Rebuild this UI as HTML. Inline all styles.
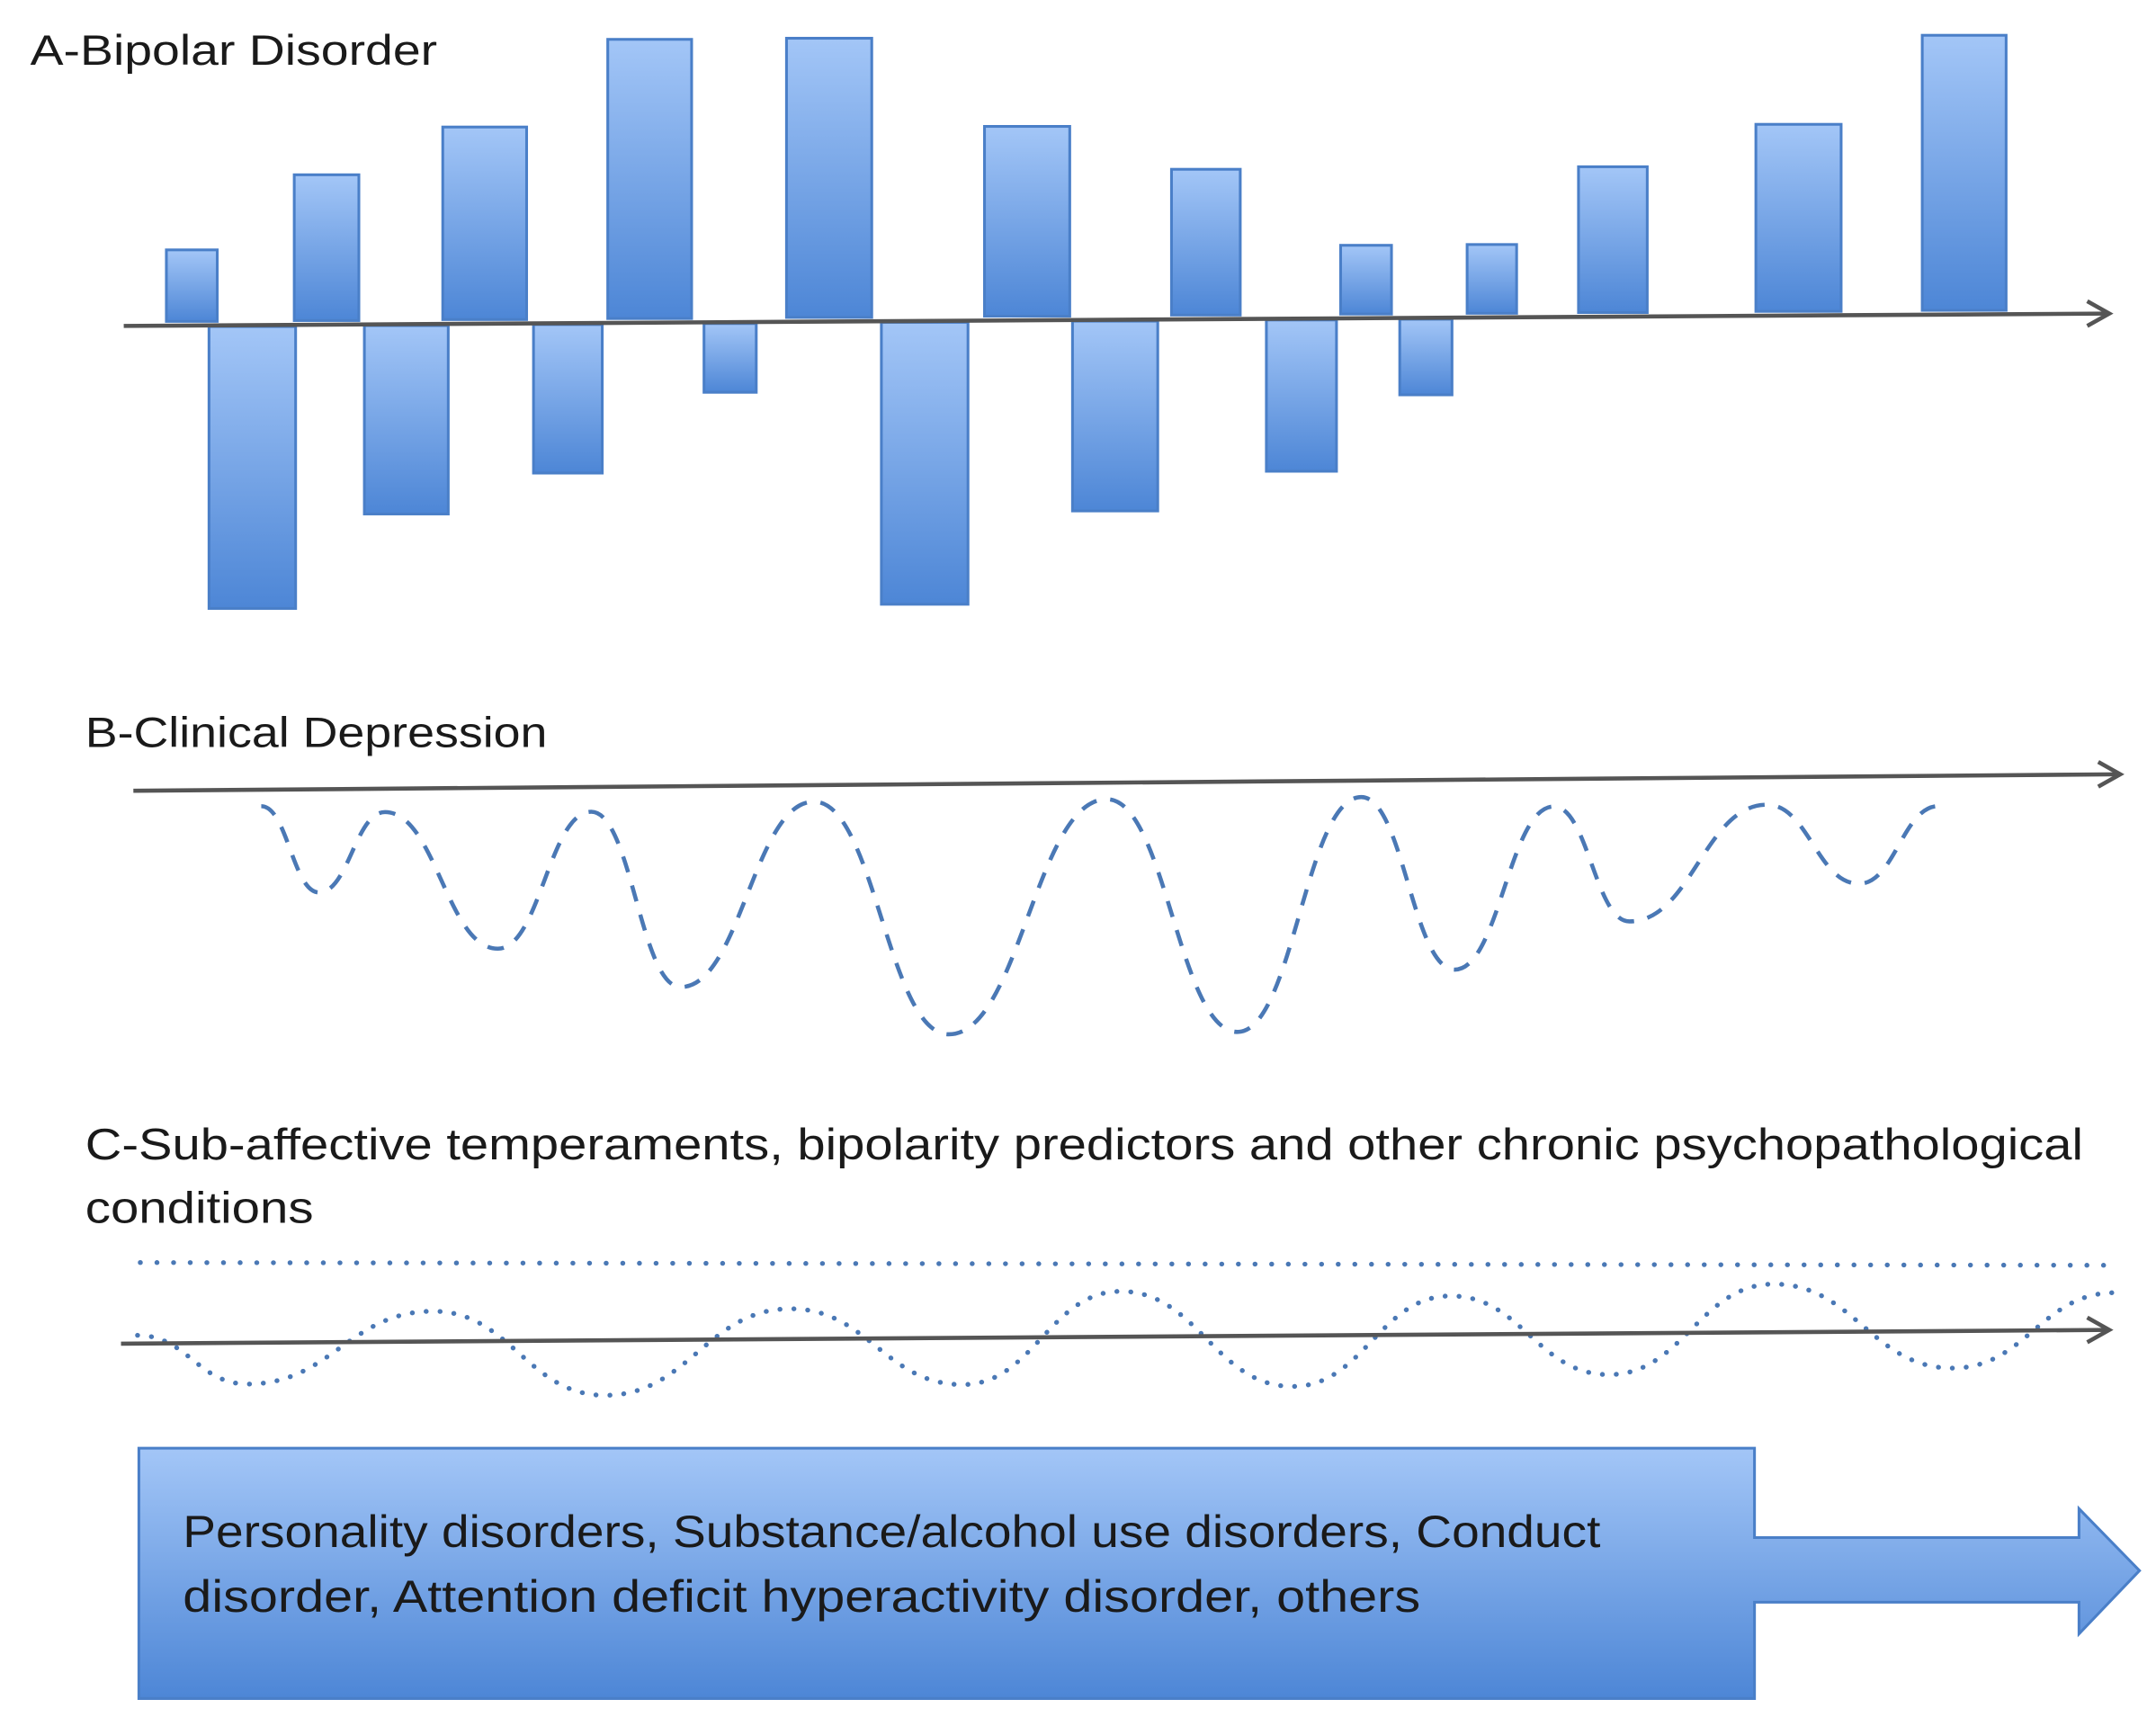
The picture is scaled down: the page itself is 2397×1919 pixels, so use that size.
<!DOCTYPE html>
<html><head><meta charset="utf-8"><style>
html,body{margin:0;padding:0;background:#fff;}
svg{display:block;}
text{font-family:"Liberation Sans",sans-serif;fill:#1a1a1a;}
</style></head><body>
<svg id="chart" width="2397" height="1919" viewBox="0 0 1568 1255" preserveAspectRatio="none" xmlns="http://www.w3.org/2000/svg">
<defs>
<linearGradient id="barGrad" x1="0" y1="0" x2="0" y2="1">
<stop offset="0" stop-color="#a3c6f7"/><stop offset="1" stop-color="#4d86d6"/></linearGradient>
</defs>
<text x="22" y="47" font-size="31" textLength="296" lengthAdjust="spacingAndGlyphs">A-Bipolar Disorder</text>
<g id="barsA"></g>
<line x1="90" y1="237" x2="1533" y2="228" stroke="#555" stroke-width="3"/>
<path d="M1518,219 L1534,228 L1518,237" fill="none" stroke="#555" stroke-width="3"/>

<text x="62" y="543" font-size="31" textLength="336" lengthAdjust="spacingAndGlyphs">B-Clinical Depression</text>
<line x1="97" y1="575" x2="1541" y2="563" stroke="#555" stroke-width="3"/>
<path d="M1526,554 L1542,563 L1526,572" fill="none" stroke="#555" stroke-width="3"/>
<path id="waveB" d="" fill="none" stroke="#4a78b5" stroke-width="3" stroke-dasharray="12 10"/>

<text x="62" y="843" font-size="32" textLength="1453" lengthAdjust="spacingAndGlyphs">C-Sub-affective temperaments, bipolarity predictors and other chronic psychopathological</text>
<text x="62" y="889" font-size="32" textLength="166" lengthAdjust="spacingAndGlyphs">conditions</text>
<line x1="102" y1="918" x2="1540" y2="920" stroke="#4a78b5" stroke-width="3.5" stroke-dasharray="0.1 12" stroke-linecap="round"/>
<path id="waveC" d="" fill="none" stroke="#4a78b5" stroke-width="3.5" stroke-dasharray="0.1 10" stroke-linecap="round"/>
<line x1="88" y1="977" x2="1533" y2="967" stroke="#555" stroke-width="3"/>
<path d="M1518,958 L1534,967 L1518,976" fill="none" stroke="#555" stroke-width="3"/>

<path d="M101,1053 L1276,1053 L1276,1118 L1512,1118 L1512,1097 L1556,1142 L1512,1188 L1512,1165 L1276,1165 L1276,1235 L101,1235 Z" fill="url(#barGrad)" stroke="#4a7fc8" stroke-width="2"/>
<text x="133" y="1125" font-size="33" textLength="1031" lengthAdjust="spacingAndGlyphs">Personality disorders, Substance/alcohol use disorders, Conduct</text>
<text x="133" y="1172" font-size="33" textLength="900" lengthAdjust="spacingAndGlyphs">disorder, Attention deficit hyperactivity disorder, others</text>
</svg>
<script>
// Panel A: episode onset (time), duration, mood amplitude (+mania / -depression)
const barStart = [121,152,214,265,322,388,442,512,572,641,716,780,852,921,975,1018,1067,1148,1277,1398];
const barDur   = [37,63,47,61,61,50,61,38,62,63,62,62,50,51,37,38,36,50,62,61];
const barValue = [52,-205,106,-137,140,-108,203,-50,203,-205,138,-138,106,-110,50,-55,50,106,136,200];
// Panel B: depression wave extrema (time, depth)
const waveBTime = [190,232,280,362,430,495,592,690,805,900,990,1058,1130,1185,1285,1352,1410];
const waveBDepth= [12,75,17,117,18,146,12,182,12,182,12,138,20,104,20,78,22];
// Panel C: temperament oscillation extrema (time, offset from axis; +below)
const waveCTime = [100,180,315,440,575,700,815,940,1055,1170,1290,1420,1538];
const waveCValue= [-6,30,-22,40,-22,34,-33,37,-28,30,-35,27,-27];

const ns="http://www.w3.org/2000/svg";
function axisA(t){ return 237 + (228-237)*(t-90)/(1533-90); }
function axisB(t){ return 575 + (563-575)*(t-97)/(1541-97); }
function axisC(t){ return 977 + (967-977)*(t-88)/(1533-88); }
const g=document.getElementById('barsA');
barStart.forEach((s,i)=>{
  const v=barValue[i], base=axisA(s+barDur[i]/2);
  const r=document.createElementNS(ns,'rect');
  
  
  const y0 = v>0 ? base-3-v : base+1;
  r.setAttribute('x',s); r.setAttribute('width',barDur[i]);
  r.setAttribute('y',y0); r.setAttribute('height',Math.abs(v));
  r.setAttribute('fill','url(#barGrad)'); r.setAttribute('stroke','#4a7fc8'); r.setAttribute('stroke-width','2');
  g.appendChild(r);
});
function smooth(xs,ys){
  let d='M'+xs[0]+','+ys[0];
  for(let i=1;i<xs.length;i++){
    const mx=(xs[i]-xs[i-1])*0.45;
    d+=' C'+(xs[i-1]+mx)+','+ys[i-1]+' '+(xs[i]-mx)+','+ys[i]+' '+xs[i]+','+ys[i];
  }
  return d;
}
document.getElementById('waveB').setAttribute('d',smooth(waveBTime,waveBTime.map((t,i)=>axisB(t)+waveBDepth[i])));
document.getElementById('waveC').setAttribute('d',smooth(waveCTime,waveCTime.map((t,i)=>axisC(t)+waveCValue[i])));
</script>
</body></html>
